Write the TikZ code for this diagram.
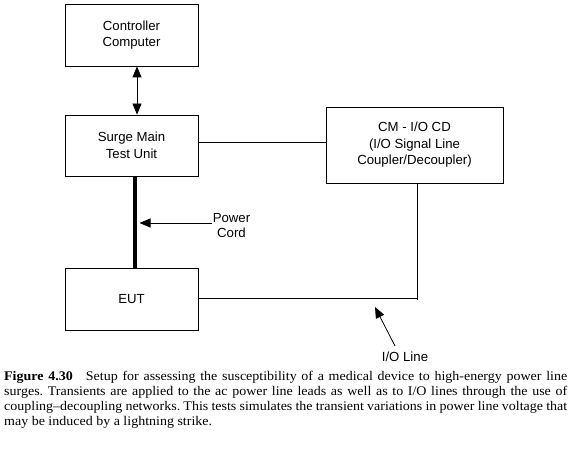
\documentclass[tikz,border=0pt]{standalone}
\usepackage{fontspec}
\setmainfont{Liberation Serif}
\newfontfamily\diagfont{Liberation Sans}
\newfontfamily\capfont[FakeStretch=1.06,Ligatures=TeX]{Liberation Serif}
\usetikzlibrary{arrows.meta}

\begin{document}
\begin{tikzpicture}[x = 1pt, y = -1pt,
  box/.style = {draw, line width=0.8pt, align=center, inner sep=0pt,
    font=\diagfont\fontsize{13.2}{16.5}\selectfont},
  lbl/.style = {align=center, inner sep=1pt,
    font=\diagfont\fontsize{13.2}{15.5}\selectfont},
  wire/.style = {line width=0.8pt},
  tip/.style = {-{Triangle[length=11pt,width=9pt]}, line width=0.8pt}]
\useasboundingbox (0,0) rectangle (573,449);
\fill[white] (0,0) rectangle (573,449);

% blocks
\node[box, minimum width=133pt, minimum height=62pt] (ctrl) at (131.5,35) {Controller\\Computer};
\node[box, minimum width=133pt, minimum height=61pt] (surge) at (131.5,145.5) {Surge Main\\Test Unit};
\node[box, minimum width=177pt, minimum height=76pt] (cmcd) at (414.5,145) {CM - I/O CD\\(I/O Signal Line\\Coupler/Decoupler)};
\node[box, minimum width=133pt, minimum height=62pt] (eut) at (131.5,299) {EUT};

% labels
\node[lbl] (pcord) at (231.5,225.5) {Power\\Cord};
\node[lbl] (ioline) at (405,357) {I/O Line};

% connections
\draw[{Triangle[length=11pt,width=9pt]}-{Triangle[length=11pt,width=9pt]}, wire]
  ([xshift=5.5pt]ctrl.south) -- ([xshift=5.5pt]surge.north);
\coordinate (surgeout) at ([yshift=3pt]surge.east);
\draw[wire] (surgeout) -- (cmcd.west |- surgeout);
\draw[line width=4pt] ([xshift=3.5pt]surge.south) -- ([xshift=3.5pt]eut.north);
\coordinate (eutout) at ([yshift=1pt]eut.east);
\coordinate (cmout) at ([xshift=2.5pt]cmcd.south);
\coordinate (iojoin) at (cmout |- eutout);
\draw[wire] (cmout) -- ([yshift=-2pt]iojoin);
\draw[wire] (eutout) -- ([xshift=1pt]iojoin);

% pointers
\coordinate (cordtip) at (139.5,223);
\coordinate (linetip) at (375,307);
\draw[tip] (pcord.west |- cordtip) -- (cordtip);
\draw[tip] (395,346) -- (linetip);

% caption
\node[anchor=north west, inner sep=0pt, text width=563pt, align=justify,
  font=\capfont\fontsize{13.2}{15}\selectfont\frenchspacing] (cap) at (4,371.5)
  {\textbf{Figure 4.30}\hspace{1em}Setup for assessing the susceptibility of a medical device to high-energy power line\linebreak
  surges. Transients are applied to the ac power line leads as well as to I/O lines through the use of\linebreak
  coupling–decoupling networks. This tests simulates the transient variations in power line voltage that\linebreak
  may be induced by a lightning strike.};
\end{tikzpicture}
\end{document}
